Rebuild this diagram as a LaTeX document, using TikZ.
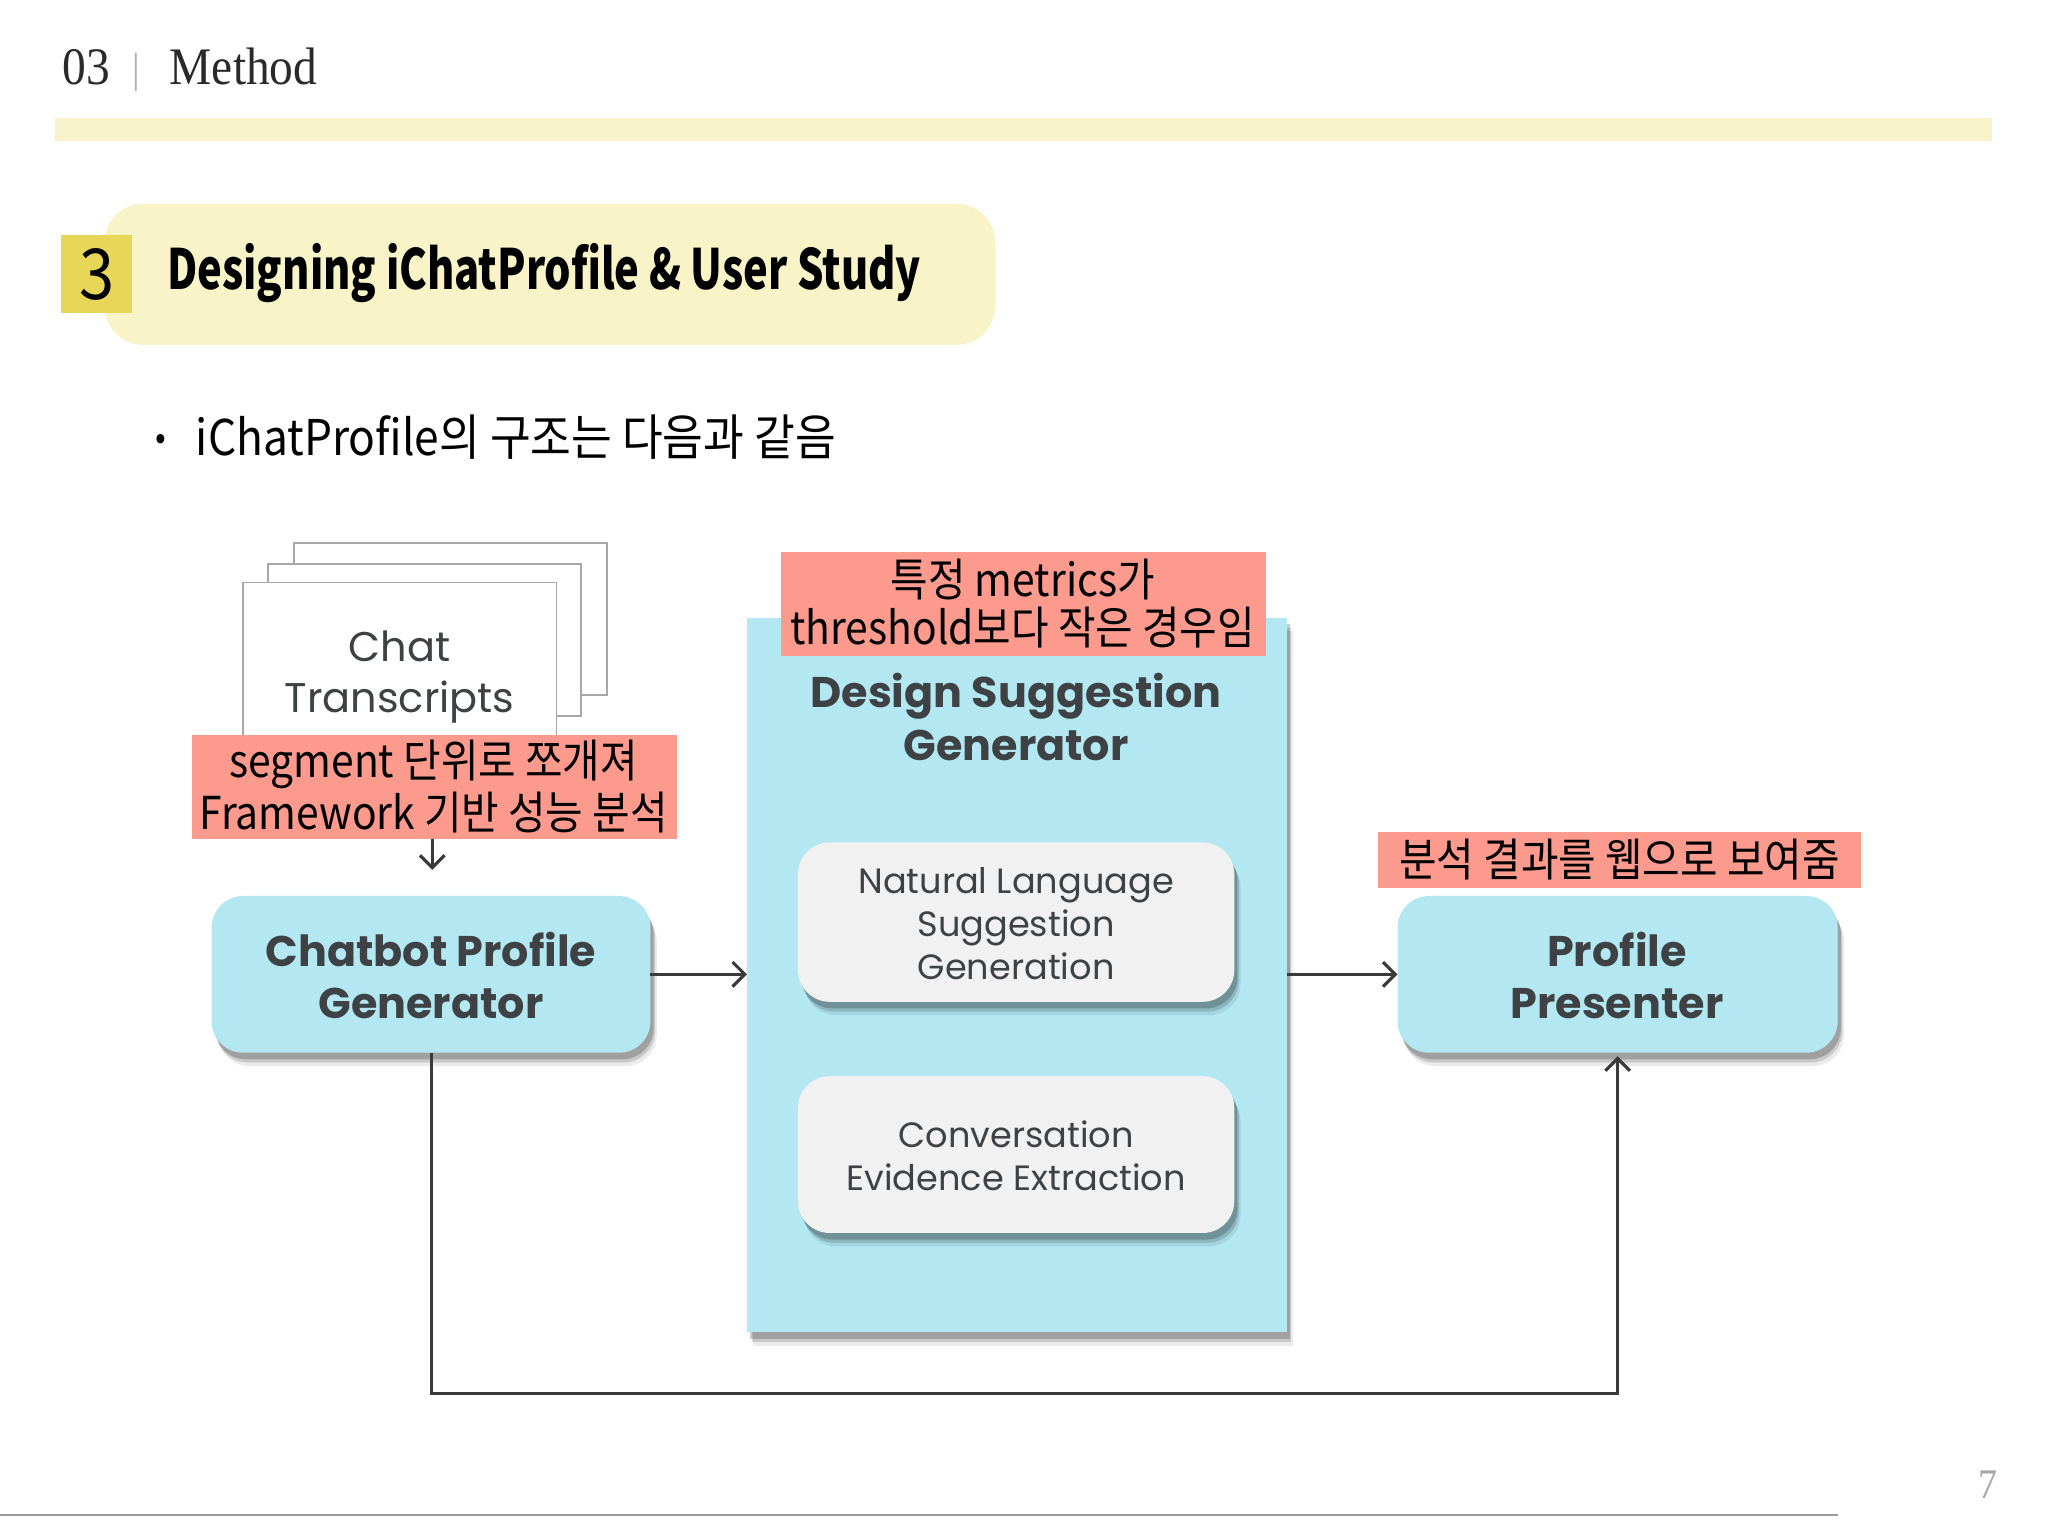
\documentclass[tikz,border=0pt]{standalone}
\usepackage{fontspec}
\setmainfont{Liberation Serif}
\newfontfamily\hdr[FakeStretch=0.9]{Liberation Serif}
\newfontfamily\krt[FakeStretch=0.75]{Noto Sans CJK KR}
\newfontfamily\krs[FakeStretch=0.9]{Noto Sans CJK KR}
\newfontfamily\gth{Poppins}
\usetikzlibrary{arrows.meta,shadows,fit}
\definecolor{cblue}{HTML}{B3E8F2}
\definecolor{cred}{HTML}{FD9A8E}
\definecolor{cgray}{HTML}{F1F1F2}
\definecolor{ctext}{HTML}{3E4244}
\definecolor{cline}{HTML}{3A3A3A}
\definecolor{cbar}{HTML}{F8F2CA}
\definecolor{ctitle}{HTML}{F8F4C8}
\definecolor{cgold}{HTML}{E8D659}
\definecolor{cpage}{HTML}{A8A8A8}
\definecolor{chead}{HTML}{2A2A2A}
\begin{document}
\begin{tikzpicture}[x=0.013061cm,y=-0.013061cm,
  every node/.style={inner sep=0pt, outer sep=0pt},
  shadowA/.style={drop shadow={shadow xshift=1.8pt,shadow yshift=-3.8pt,fill=black,opacity=0.08},
                  drop shadow={shadow xshift=1.3pt,shadow yshift=-2.8pt,fill=black,opacity=0.14},
                  drop shadow={shadow xshift=0.9pt,shadow yshift=-1.9pt,fill=black,opacity=0.20}},
  bluebox/.style={fill=cblue, rounded corners=9pt, shadowA},
  graybox/.style={fill=cgray, rounded corners=9pt, shadowA},
  boldtxt/.style={text=ctext, align=center, font=\gth\bfseries\fontsize{12.2}{14.9}\selectfont},
  regtxt/.style={text=ctext, align=center, font=\gth\fontsize{10}{12.3}\selectfont},
  redlab/.style={fill=cred},
  redtxt/.style={text=black, align=center, font=\krs\fontsize{12.9}{13.75}\selectfont},
  pagebox/.style={draw=cpage, line width=0.5pt, fill=white},
  conn/.style={draw=cline, line width=0.85pt, -{Straight Barb[length=3.5pt,width=7pt,line width=0.9pt]}},
]
\useasboundingbox (0,0) rectangle (1568,1176);
\fill[white] (0,0) rectangle (1568,1176);

% header
\node[anchor=base west, font=\hdr\fontsize{15}{16}\selectfont, text=chead] (h03) at (48,65) {03};
\node[anchor=base, font=\hdr\fontsize{12}{16}\selectfont, text=gray!60] (hsep) at (104,63) {|};
\node[anchor=base west, font=\hdr\fontsize{15}{16}\selectfont, text=chead] (hmeth) at (130,65) {Method};
\node[fill=cbar, fit={(42,90)(1525,108)}] (hbar) {};

% title
\node[fill=ctitle, rounded corners=11pt, fit={(80,156)(762,264)}] (tbox) {};
\node[fill=cgold, fit={(47,180)(101,240)}] (tnumbox) {};
\node[font=\krs\fontsize{20}{22}\selectfont] (tnum) at (74,210) {3};
\node[anchor=west, font=\krt\bfseries\fontsize{15.8}{20}\selectfont] (ttext) at (128,209) {Designing iChatProfile \& User Study};

% bullet
\node[font=\krs\fontsize{10}{12}\selectfont] (bul) at (123,338) {•};
\node[anchor=west, font=\krs\fontsize{14}{16}\selectfont] (btext) at (150,335) {iChatProfile의 구조는 다음과 같음};

% chat transcripts
\node[pagebox, fit={(225,416)(465,532)}] (p3) {};
\node[pagebox, fit={(205,432)(445,548)}] (p2) {};
\node[pagebox, fit={(186,446)(426,570)}] (p1) {};
\node[text=ctext, align=center, font=\gth\fontsize{11.8}{14.5}\selectfont] (cttext) at (306,518) {Chat\\Transcripts};

% design suggestion generator
\node[fill=cblue, shadowA, fit={(572,473)(985,1020)}] (dsg) {};
\node[boldtxt] (dsgt) at (778,549) {Design Suggestion\\Generator};
\node[graybox, fit={(611,645)(945,767)}] (nlsg) {};
\node[regtxt] (nlsgt) at (778,707) {Natural Language\\Suggestion\\Generation};
\node[graybox, fit={(611,824)(945,944)}] (cee) {};
\node[regtxt] (ceet) at (778,885) {Conversation\\Evidence Extraction};

% side boxes
\node[bluebox, fit={(162,686)(498,806)}] (cpg) {};
\node[boldtxt] (cpgt) at (330,747) {Chatbot Profile\\Generator};
\node[bluebox, fit={(1070,686)(1407,806)}] (pp) {};
\node[boldtxt] (ppt) at (1238,747) {Profile\\Presenter};

% red labels
\node[redlab, fit={(147,563)(518,642)}] (lab1) {};
\node[redtxt] (lab1t) at (332,602) {segment 단위로 쪼개져\\Framework 기반 성능 분석};
\node[redlab, fit={(598,423)(969,502)}] (lab2) {};
\node[redtxt] (lab2t) at (783,462) {특정 metrics가\\threshold보다 작은 경우임};
\node[redlab, fit={(1055,637)(1425,680)}] (lab3) {};
\node[redtxt] (lab3t) at (1240,658) {분석 결과를 웹으로 보여줌};

% connectors
\coordinate (a1end) at (331,666);
\draw[conn] (lab1.south -| a1end) -- (a1end);
\draw[conn] (cpg.east) -- (dsg.west |- cpg.east);
\draw[conn] (dsg.east |- pp.west) -- (pp.west);
\coordinate (fbl) at (330,1067);
\draw[conn] (cpg.south) -- (cpg.south |- fbl) -| ([yshift=-1pt]pp.south);

% footer
\draw[draw=gray!80, line width=0.7pt] (0,1160) -- (1407,1160);
\node[font=\hdr\fontsize{12}{14}\selectfont, text=gray!70] (pnum) at (1522,1137) {7};
\end{tikzpicture}
\end{document}
